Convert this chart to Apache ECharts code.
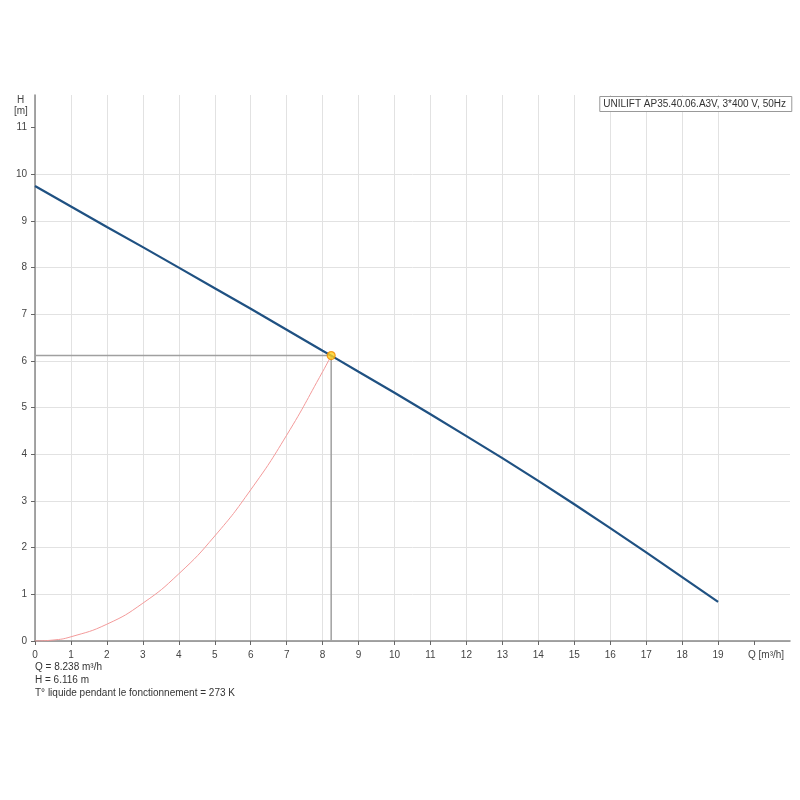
<!DOCTYPE html>
<html>
<head>
<meta charset="utf-8">
<script src="https://cdn.jsdelivr.net/npm/echarts@6/dist/echarts.min.js"></script>
<style>html,body{margin:0;padding:0;background:#fff}#c{width:800px;height:800px}</style>
</head>
<body>
<div id="c"></div>
<script>
// Pump curve Q [m³/h] vs H [m]
const pumpQ = [0, 1, 2, 3, 4, 5, 6, 7, 8, 8.238, 9, 10, 11, 12, 13, 14, 15, 16, 17, 18, 19];
const pumpH = [9.75, 9.31, 8.87, 8.44, 8.0, 7.56, 7.12, 6.67, 6.22, 6.116, 5.77, 5.32, 4.86, 4.39, 3.92, 3.43, 2.93, 2.42, 1.9, 1.37, 0.84];
// System curve
const sysQ = [0, 0.5, 1, 2, 3, 4, 5, 6, 7, 8, 8.238];
const sysH = [0, 0.02, 0.09, 0.36, 0.81, 1.44, 2.25, 3.24, 4.41, 5.77, 6.116];
// Operating point
const opQ = 8.238;
const opH = 6.116;
// Tick values
const xTicks = [0, 1, 2, 3, 4, 5, 6, 7, 8, 9, 10, 11, 12, 13, 14, 15, 16, 17, 18, 19, 20];
const yTicks = [0, 1, 2, 3, 4, 5, 6, 7, 8, 9, 10, 11];
const titleText = 'UNILIFT AP35.40.06.A3V, 3*400 V, 50Hz';
const infoLines = ['Q = 8.238 m³/h', 'H = 6.116 m', 'T° liquide pendant le fonctionnement = 273 K'];

const chart = echarts.init(document.getElementById('c'), null, {renderer: 'canvas'});
const font = 'Liberation Sans, Arial, sans-serif';
chart.setOption({
  animation: false,
  backgroundColor: '#fff',
  textStyle: {fontFamily: font},
  title: {
    text: titleText,
    right: 8, top: 96,
    padding: [3, 6, 3, 4],
    borderColor: '#999', borderWidth: 1, backgroundColor: '#fff',
    textStyle: {fontSize: 10, fontWeight: 'normal', color: '#333', fontFamily: font}
  },
  grid: {left: 35, top: 95, right: 10, bottom: 159, containLabel: false},
  xAxis: {
    type: 'value', min: 0, max: 21, interval: 1,
    axisLine: {show: true, onZero: false, lineStyle: {color: '#888', width: 1.5}},
    axisTick: {show: true, length: 4, lineStyle: {color: '#666'}, customValues: xTicks},
    axisLabel: {
      fontSize: 10, color: '#444', fontFamily: font, margin: 9,
      customValues: xTicks,
      formatter: function (v) {
        if (v === 20) return '{q|Q [m³/h]}';
        return String(v);
      },
      rich: {q: {fontSize: 10, color: '#444', fontFamily: font, padding: [0, 0, 0, 24]}}
    },
    splitLine: {show: true, showMaxLine: false, lineStyle: {color: '#e2e2e2', width: 1}}
  },
  yAxis: {
    type: 'value', min: 0, max: 11.7, interval: 1,
    axisLine: {show: true, onZero: false, lineStyle: {color: '#888', width: 1.5}},
    axisTick: {show: true, length: 4, lineStyle: {color: '#666'}, customValues: yTicks},
    axisLabel: {
      fontSize: 10, color: '#444', fontFamily: font, margin: 8,
      customValues: yTicks,
      formatter: function (v) { return String(v); }
    },
    splitLine: {show: true, showMaxLine: false, lineStyle: {color: '#e2e2e2', width: 1}}
  },
  graphic: [
    {type: 'text', left: 17, top: 95, style: {text: 'H', fontSize: 10, fill: '#444', fontFamily: font}},
    {type: 'text', left: 14, top: 106, style: {text: '[m]', fontSize: 10, fill: '#444', fontFamily: font}},
    {type: 'text', left: 35, top: 661, style: {text: infoLines.join('\n'), fontSize: 10, lineHeight: 13, fill: '#333', fontFamily: font}}
  ],
  series: [
    {
      type: 'line', data: [[0, opH], [opQ, opH]], symbol: 'none', silent: true,
      lineStyle: {color: '#a0a0a0', width: 1.5}, z: 2
    },
    {
      type: 'line', data: [[opQ, opH], [opQ, 0]], symbol: 'none', silent: true,
      lineStyle: {color: '#a0a0a0', width: 1.5}, z: 2
    },
    {
      type: 'line', data: sysQ.map((q, i) => [q, sysH[i]]), symbol: 'none', smooth: true,
      lineStyle: {color: '#f39a9a', width: 1}, z: 3
    },
    {
      type: 'line', data: pumpQ.map((q, i) => [q, pumpH[i]]), symbol: 'none',
      lineStyle: {color: '#1f5182', width: 2.2}, z: 4
    },
    {
      type: 'scatter', data: [[opQ, opH]], symbol: 'circle', symbolSize: 8,
      itemStyle: {color: '#ffd21f', borderColor: '#f08a00', borderWidth: 1.2}, z: 5
    }
  ]
});
</script>
</body>
</html>
